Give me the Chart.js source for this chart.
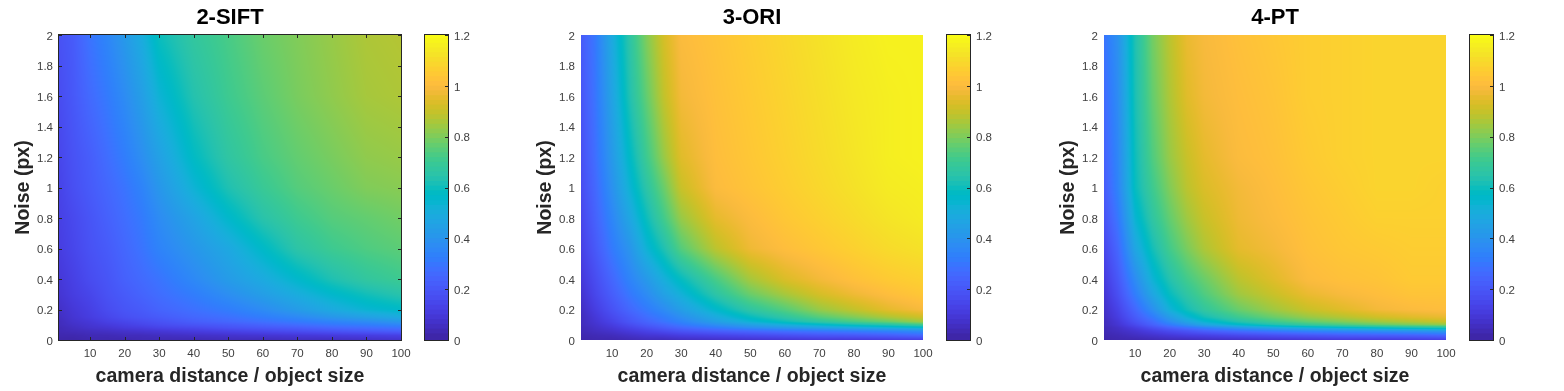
<!DOCTYPE html>
<html>
<head>
<meta charset="utf-8">
<title>Noise vs camera distance</title>
<script src="https://cdn.jsdelivr.net/npm/chart.js@4"></script>
<style>
    html, body { margin: 0; background: #fff; }
    #page { position: relative; width: 1564px; height: 391px; overflow: hidden; }
    canvas { position: absolute; top: 0; }
</style>
</head>
<body>
<div id="page"></div>
<script>
const distanceNodes = [1, 5, 10, 15, 20, 25, 30, 40, 50, 60, 70, 80, 90, 100];
const noiseNodes = [0, 0.03, 0.06, 0.08, 0.1, 0.12, 0.15, 0.2, 0.3, 0.4, 0.6, 0.8, 1, 1.2, 1.6, 2];
const distanceTicks = [10, 20, 30, 40, 50, 60, 70, 80, 90, 100];
const noiseTicks = [0, 0.2, 0.4, 0.6, 0.8, 1, 1.2, 1.4, 1.6, 1.8, 2];
const colorTicks = [0, 0.2, 0.4, 0.6, 0.8, 1, 1.2];
const colorMax = 1.2;

// one row per noise node, bottom row first
const siftValues = [
    [0, 0, 0.01, 0.01, 0.01, 0.02, 0.02, 0.02, 0.03, 0.03, 0.04, 0.04, 0.05, 0.06],
    [0.01, 0.01, 0.02, 0.02, 0.03, 0.03, 0.04, 0.05, 0.06, 0.07, 0.08, 0.09, 0.1, 0.11],
    [0.02, 0.03, 0.04, 0.05, 0.06, 0.07, 0.08, 0.1, 0.12, 0.14, 0.16, 0.18, 0.2, 0.22],
    [0.02, 0.04, 0.06, 0.07, 0.09, 0.1, 0.12, 0.14, 0.17, 0.19, 0.21, 0.24, 0.26, 0.28],
    [0.03, 0.05, 0.07, 0.09, 0.11, 0.13, 0.15, 0.18, 0.2, 0.23, 0.26, 0.29, 0.31, 0.34],
    [0.03, 0.06, 0.08, 0.11, 0.13, 0.15, 0.17, 0.21, 0.24, 0.27, 0.3, 0.33, 0.36, 0.4],
    [0.04, 0.07, 0.1, 0.13, 0.16, 0.18, 0.2, 0.24, 0.27, 0.31, 0.35, 0.4, 0.44, 0.48],
    [0.05, 0.08, 0.11, 0.15, 0.18, 0.2, 0.23, 0.27, 0.31, 0.36, 0.42, 0.48, 0.53, 0.56],
    [0.07, 0.1, 0.13, 0.17, 0.2, 0.23, 0.26, 0.31, 0.37, 0.43, 0.49, 0.55, 0.6, 0.64],
    [0.08, 0.11, 0.15, 0.18, 0.22, 0.25, 0.28, 0.35, 0.42, 0.48, 0.55, 0.62, 0.67, 0.7],
    [0.1, 0.13, 0.17, 0.2, 0.24, 0.28, 0.33, 0.4, 0.47, 0.56, 0.65, 0.7, 0.73, 0.75],
    [0.11, 0.14, 0.18, 0.22, 0.26, 0.3, 0.36, 0.45, 0.55, 0.64, 0.7, 0.74, 0.76, 0.78],
    [0.12, 0.16, 0.2, 0.24, 0.28, 0.33, 0.4, 0.52, 0.62, 0.69, 0.74, 0.77, 0.8, 0.81],
    [0.13, 0.17, 0.21, 0.26, 0.31, 0.37, 0.44, 0.57, 0.66, 0.72, 0.76, 0.79, 0.82, 0.83],
    [0.15, 0.19, 0.25, 0.3, 0.36, 0.43, 0.52, 0.63, 0.7, 0.75, 0.79, 0.82, 0.85, 0.86],
    [0.17, 0.2, 0.28, 0.34, 0.41, 0.49, 0.59, 0.67, 0.72, 0.77, 0.8, 0.83, 0.86, 0.87]
];
const oriValues = [
    [0, 0.01, 0.01, 0.02, 0.03, 0.03, 0.04, 0.05, 0.06, 0.07, 0.08, 0.08, 0.09, 0.1],
    [0.01, 0.02, 0.03, 0.05, 0.07, 0.08, 0.1, 0.12, 0.14, 0.16, 0.18, 0.19, 0.21, 0.24],
    [0.02, 0.04, 0.06, 0.09, 0.12, 0.15, 0.18, 0.22, 0.25, 0.28, 0.3, 0.32, 0.34, 0.37],
    [0.02, 0.05, 0.08, 0.12, 0.16, 0.2, 0.24, 0.3, 0.36, 0.4, 0.44, 0.47, 0.5, 0.53],
    [0.03, 0.06, 0.1, 0.15, 0.2, 0.24, 0.29, 0.37, 0.44, 0.5, 0.55, 0.6, 0.64, 0.7],
    [0.03, 0.07, 0.12, 0.18, 0.23, 0.28, 0.33, 0.43, 0.52, 0.59, 0.66, 0.72, 0.77, 0.84],
    [0.03, 0.08, 0.14, 0.2, 0.26, 0.31, 0.37, 0.48, 0.58, 0.66, 0.74, 0.8, 0.86, 0.91],
    [0.04, 0.1, 0.17, 0.24, 0.3, 0.36, 0.43, 0.55, 0.66, 0.74, 0.83, 0.89, 0.95, 0.99],
    [0.06, 0.13, 0.21, 0.29, 0.36, 0.44, 0.51, 0.65, 0.77, 0.85, 0.92, 0.97, 1.01, 1.04],
    [0.08, 0.15, 0.24, 0.33, 0.41, 0.5, 0.58, 0.72, 0.85, 0.93, 0.98, 1.02, 1.05, 1.07],
    [0.11, 0.19, 0.3, 0.39, 0.52, 0.62, 0.74, 0.88, 0.97, 1.01, 1.04, 1.07, 1.1, 1.12],
    [0.13, 0.22, 0.34, 0.46, 0.59, 0.71, 0.83, 0.95, 1.0, 1.04, 1.07, 1.1, 1.13, 1.15],
    [0.15, 0.24, 0.38, 0.52, 0.65, 0.77, 0.9, 1.0, 1.03, 1.06, 1.09, 1.12, 1.15, 1.16],
    [0.16, 0.26, 0.41, 0.56, 0.7, 0.83, 0.94, 1.01, 1.04, 1.07, 1.1, 1.13, 1.16, 1.17],
    [0.18, 0.28, 0.45, 0.62, 0.76, 0.89, 0.98, 1.02, 1.05, 1.08, 1.11, 1.14, 1.16, 1.17],
    [0.2, 0.29, 0.48, 0.65, 0.8, 0.92, 1.0, 1.03, 1.06, 1.09, 1.12, 1.15, 1.17, 1.17]
];
const ptValues = [
    [0, 0.01, 0.01, 0.02, 0.03, 0.03, 0.04, 0.05, 0.06, 0.07, 0.08, 0.08, 0.09, 0.1],
    [0.01, 0.02, 0.04, 0.06, 0.08, 0.1, 0.11, 0.14, 0.16, 0.18, 0.2, 0.21, 0.22, 0.24],
    [0.02, 0.04, 0.07, 0.11, 0.15, 0.18, 0.22, 0.27, 0.31, 0.34, 0.36, 0.38, 0.4, 0.42],
    [0.02, 0.05, 0.1, 0.16, 0.22, 0.27, 0.32, 0.4, 0.46, 0.5, 0.54, 0.57, 0.6, 0.62],
    [0.03, 0.07, 0.14, 0.22, 0.3, 0.38, 0.46, 0.55, 0.62, 0.68, 0.72, 0.76, 0.79, 0.82],
    [0.03, 0.08, 0.17, 0.25, 0.36, 0.45, 0.53, 0.63, 0.7, 0.76, 0.8, 0.84, 0.87, 0.9],
    [0.04, 0.1, 0.2, 0.3, 0.42, 0.52, 0.6, 0.7, 0.77, 0.83, 0.87, 0.91, 0.94, 0.96],
    [0.05, 0.12, 0.24, 0.37, 0.51, 0.6, 0.67, 0.77, 0.84, 0.9, 0.94, 0.98, 1.0, 1.01],
    [0.07, 0.16, 0.31, 0.46, 0.58, 0.66, 0.73, 0.84, 0.9, 0.96, 0.99, 1.01, 1.03, 1.03],
    [0.09, 0.19, 0.36, 0.52, 0.63, 0.71, 0.77, 0.88, 0.94, 1.0, 1.02, 1.03, 1.05, 1.05],
    [0.13, 0.24, 0.46, 0.6, 0.71, 0.79, 0.86, 0.95, 0.98, 1.02, 1.04, 1.05, 1.06, 1.06],
    [0.17, 0.29, 0.53, 0.66, 0.76, 0.84, 0.9, 0.97, 1.0, 1.03, 1.05, 1.07, 1.07, 1.07],
    [0.2, 0.33, 0.58, 0.7, 0.8, 0.88, 0.93, 0.98, 1.01, 1.04, 1.06, 1.08, 1.08, 1.07],
    [0.22, 0.34, 0.59, 0.73, 0.83, 0.9, 0.95, 1.0, 1.02, 1.05, 1.07, 1.08, 1.08, 1.08],
    [0.25, 0.36, 0.61, 0.76, 0.86, 0.94, 0.98, 1.01, 1.03, 1.06, 1.07, 1.08, 1.08, 1.08],
    [0.28, 0.38, 0.62, 0.78, 0.88, 0.96, 0.99, 1.02, 1.04, 1.06, 1.07, 1.08, 1.08, 1.08]
];

const panelTitles = ['2-SIFT', '3-ORI', '4-PT'];
const panelValues = [siftValues, oriValues, ptValues];
const panelCentres = [230, 752, 1275];
// only the first panel of the original still shows its axes box
const panelBoxed = [true, false, false];

const parula = [
    [0.2422,0.1504,0.6603],[0.2504,0.1650,0.7076],[0.2578,0.1818,0.7511],[0.2647,0.1978,0.7952],
    [0.2706,0.2147,0.8364],[0.2751,0.2342,0.8710],[0.2783,0.2559,0.8991],[0.2803,0.2782,0.9221],
    [0.2813,0.3006,0.9414],[0.2810,0.3228,0.9579],[0.2795,0.3447,0.9717],[0.2760,0.3667,0.9829],
    [0.2699,0.3892,0.9906],[0.2602,0.4123,0.9952],[0.2440,0.4358,0.9988],[0.2206,0.4603,0.9973],
    [0.1963,0.4847,0.9892],[0.1834,0.5074,0.9798],[0.1786,0.5289,0.9682],[0.1764,0.5499,0.9520],
    [0.1687,0.5703,0.9359],[0.1540,0.5902,0.9218],[0.1460,0.6091,0.9079],[0.1380,0.6276,0.8973],
    [0.1248,0.6459,0.8883],[0.1113,0.6635,0.8763],[0.0952,0.6798,0.8598],[0.0689,0.6948,0.8394],
    [0.0297,0.7082,0.8163],[0.0036,0.7203,0.7917],[0.0067,0.7312,0.7660],[0.0433,0.7411,0.7394],
    [0.0964,0.7500,0.7120],[0.1408,0.7584,0.6842],[0.1717,0.7670,0.6554],[0.1938,0.7758,0.6251],
    [0.2161,0.7843,0.5923],[0.2470,0.7918,0.5567],[0.2906,0.7973,0.5188],[0.3406,0.8008,0.4789],
    [0.3909,0.8029,0.4354],[0.4456,0.8024,0.3909],[0.5044,0.7993,0.3480],[0.5616,0.7942,0.3045],
    [0.6174,0.7876,0.2612],[0.6720,0.7793,0.2227],[0.7242,0.7698,0.1910],[0.7738,0.7598,0.1646],
    [0.8203,0.7498,0.1535],[0.8634,0.7406,0.1596],[0.9035,0.7330,0.1774],[0.9393,0.7288,0.2100],
    [0.9728,0.7298,0.2394],[0.9956,0.7434,0.2371],[0.9970,0.7659,0.2199],[0.9952,0.7893,0.2028],
    [0.9892,0.8136,0.1885],[0.9786,0.8386,0.1766],[0.9676,0.8639,0.1643],[0.9610,0.8890,0.1537],
    [0.9597,0.9135,0.1423],[0.9628,0.9373,0.1265],[0.9691,0.9606,0.1064],[0.9769,0.9839,0.0805]
];

const fontFamily = '"Liberation Sans", Arial, sans-serif';
const tickColor = '#404040';
const labelColor = '#262626';
const page = document.getElementById('page');

function addCanvas(left, width) {
    const canvas = document.createElement('canvas');
    canvas.width = width;
    canvas.height = 391;
    canvas.style.left = left + 'px';
    page.appendChild(canvas);
    return canvas;
}

// locate v between the nodes of a sorted array
function nodeIndex(nodes, v) {
    let i = 0;
    while (i < nodes.length - 2 && v > nodes[i + 1]) i++;
    return [i, Math.min(1, Math.max(0, (v - nodes[i]) / (nodes[i + 1] - nodes[i])))];
}

// like shading interp in the original figure: the nodes are coloured and the cells between them blended
const shadingPlugin = {
    id: 'shading',
    beforeDatasetsDraw(chart) {
        const { ctx, chartArea, scales } = chart;
        const left = Math.round(chartArea.left), top = Math.round(chartArea.top);
        const w = Math.round(chartArea.right) - left, h = Math.round(chartArea.bottom) - top;
        const nodes = chart.data.datasets[0].data;
        const nx = distanceNodes.length;
        const img = ctx.createImageData(w, h);
        for (let py = 0; py < h; py++) {
            const [j, fy] = nodeIndex(noiseNodes, scales.y.getValueForPixel(top + py + 0.5));
            for (let px = 0; px < w; px++) {
                const [i, fx] = nodeIndex(distanceNodes, scales.x.getValueForPixel(left + px + 0.5));
                const a = nodes[j * nx + i].v, b = nodes[j * nx + i + 1].v;
                const c = nodes[(j + 1) * nx + i].v, d = nodes[(j + 1) * nx + i + 1].v;
                const v = (a * (1 - fx) + b * fx) * (1 - fy) + (c * (1 - fx) + d * fx) * fy;
                const pos = Math.min(62.999, v / colorMax * 63);
                const k = Math.floor(pos), f = pos - k;
                const o = (py * w + px) * 4;
                for (let ch = 0; ch < 3; ch++) {
                    img.data[o + ch] = (parula[k][ch] * (1 - f) + parula[k + 1][ch] * f) * 255;
                }
                img.data[o + 3] = 255;
            }
        }
        ctx.putImageData(img, left, top);
    }
};

// matlab style ticks pointing inward, plus the thin box
const boxPlugin = {
    id: 'box',
    afterDraw(chart, args, opts) {
        if (opts.hidden) return;
        const { ctx, chartArea: a, scales } = chart;
        ctx.save();
        ctx.strokeStyle = labelColor;
        ctx.lineWidth = 1;
        ctx.strokeRect(Math.round(a.left) - 0.5, Math.round(a.top) - 0.5, Math.round(a.right - a.left) + 1, Math.round(a.bottom - a.top) + 1);
        ctx.beginPath();
        if (scales.x && scales.x.options.display) {
            scales.x.ticks.forEach(t => {
                const x = Math.round(scales.x.getPixelForValue(t.value)) + 0.5;
                ctx.moveTo(x, a.top); ctx.lineTo(x, a.top + 3);
                ctx.moveTo(x, a.bottom); ctx.lineTo(x, a.bottom - 3);
            });
        }
        scales.y.ticks.forEach(t => {
            const y = Math.round(scales.y.getPixelForValue(t.value)) + 0.5;
            if (!opts.rightOnly) { ctx.moveTo(a.left, y); ctx.lineTo(a.left + 3, y); }
            ctx.moveTo(a.right, y); ctx.lineTo(a.right - 3, y);
        });
        ctx.stroke();
        ctx.restore();
    }
};

function drawPanel(p) {
    const points = [];
    panelValues[p].forEach((row, j) => {
        row.forEach((v, i) => points.push({ x: distanceNodes[i], y: noiseNodes[j], v: v }));
    });
    const canvas = addCanvas(panelCentres[p] - 230, 460);
    new Chart(canvas, {
        type: 'scatter',
        data: { datasets: [{ label: panelTitles[p], data: points, pointRadius: 0 }] },
        options: {
            responsive: false,
            animation: false,
            plugins: {
                legend: { display: false },
                tooltip: { enabled: false },
                title: {
                    display: true,
                    text: panelTitles[p],
                    color: '#000',
                    font: { family: fontFamily, size: 22, weight: 'bold', lineHeight: 1 },
                    padding: { top: 7, bottom: 6 }
                },
                box: { hidden: !panelBoxed[p] }
            },
            scales: {
                x: {
                    type: 'linear',
                    min: 1,
                    max: 100,
                    grid: { display: false, drawTicks: false },
                    border: { display: false },
                    afterBuildTicks: s => { s.ticks = distanceTicks.map(v => ({ value: v })); },
                    afterFit: s => { s.height = 51; },
                    ticks: {
                        color: tickColor,
                        font: { family: fontFamily, size: 11.5 },
                        padding: 7,
                        maxRotation: 0,
                        autoSkip: false,
                        callback: v => String(v)
                    },
                    title: {
                        display: true,
                        text: 'camera distance / object size',
                        color: labelColor,
                        font: { family: fontFamily, size: 19.5, weight: 'bold' },
                        padding: { top: 0, bottom: 3 }
                    }
                },
                y: {
                    type: 'linear',
                    min: 0,
                    max: 2,
                    grid: { display: false, drawTicks: false },
                    border: { display: false },
                    afterBuildTicks: s => { s.ticks = noiseTicks.map(v => ({ value: v })); },
                    afterFit: s => { s.width = 59; },
                    ticks: {
                        color: tickColor,
                        font: { family: fontFamily, size: 11.5 },
                        padding: 6,
                        labelOffset: 1.5,
                        autoSkip: false,
                        callback: v => String(v)
                    },
                    title: {
                        display: true,
                        text: 'Noise (px)',
                        color: labelColor,
                        font: { family: fontFamily, size: 19.5, weight: 'bold' },
                        padding: { top: 12, bottom: 0 }
                    }
                },
                // empty right axis, keeps the plot centred under the title
                spacer: {
                    type: 'linear',
                    position: 'right',
                    grid: { display: false, drawTicks: false },
                    border: { display: false },
                    ticks: { display: false },
                    afterFit: s => { s.width = 59; }
                }
            }
        },
        plugins: [shadingPlugin, boxPlugin]
    });

    // colour bar, one floating bar per palette entry
    const step = colorMax / parula.length;
    const barCanvas = addCanvas(panelCentres[p] + 194, 56);
    new Chart(barCanvas, {
        type: 'bar',
        data: {
            labels: [''],
            datasets: parula.map((c, i) => ({
                data: [[i * step, Math.min(colorMax, (i + 1.3) * step)]],
                backgroundColor: 'rgb(' + c.map(k => Math.round(k * 255)).join(',') + ')',
                barPercentage: 1,
                categoryPercentage: 1,
                grouped: false
            }))
        },
        options: {
            responsive: false,
            animation: false,
            layout: { padding: { left: 1, right: 0, top: 35, bottom: 51 } },
            plugins: { legend: { display: false }, tooltip: { enabled: false }, box: { rightOnly: true } },
            scales: {
                x: { display: false },
                y: {
                    position: 'right',
                    min: 0,
                    max: colorMax,
                    grid: { display: false, drawTicks: false },
                    border: { display: false },
                    afterBuildTicks: s => { s.ticks = colorTicks.map(v => ({ value: v })); },
                    afterFit: s => { s.width = 32; },
                    ticks: {
                        color: tickColor,
                        font: { family: fontFamily, size: 11.5 },
                        padding: 6,
                        labelOffset: 1.5,
                        autoSkip: false,
                        callback: v => String(v)
                    }
                }
            }
        },
        plugins: [boxPlugin]
    });
}

panelTitles.forEach((t, p) => drawPanel(p));
</script>
</body>
</html>
